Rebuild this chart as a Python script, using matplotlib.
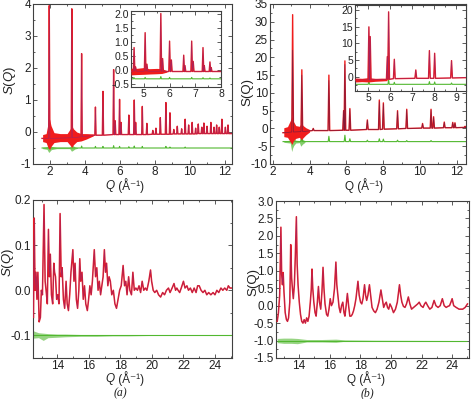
import matplotlib.pyplot as plt
from matplotlib.ticker import MultipleLocator, FormatStrFormatter

plt.rcParams.update({
    "font.family": ["Liberation Sans", "DejaVu Sans"],
    "font.size": 8,
    "axes.unicode_minus": False,
    "mathtext.fontset": "custom",
    "mathtext.it": "Liberation Sans:italic",
    "mathtext.rm": "Liberation Sans",
})

RED = "#f01c1c"
BLUE = "#3030c8"
GREEN = "#52b830"
FRAME = "#404040"

# ---- (a) upper panel: Bragg peaks, low Q ----
a1_q = [1.60, 1.98, 3.27, 3.83, 4.62, 5.05, 5.66, 5.75, 6.00, 6.08, 6.53, 6.84, 6.92,
        7.30, 7.56, 7.90, 8.08, 8.33, 8.65, 8.88, 9.10, 9.30, 9.55, 9.75, 9.95, 10.15,
        10.35, 10.50, 10.70, 10.82, 11.00, 11.22, 11.40, 11.55, 11.70, 11.85, 12.05,
        12.20, 12.45]
a1_top = [-0.20, 3.95, 3.85, 2.45, 0.78, 1.27, 1.95, 0.35, 1.02, 0.30, 0.53, 1.00, 0.30,
          0.80, 0.27, 0.05, 0.12, 0.45, 0.92, 0.60, 0.08, 0.18, 0.10, 0.40, 0.22, 0.30,
          0.12, 0.25, 0.15, 0.28, 0.18, 0.30, 0.15, 0.22, 0.15, 0.40, 0.15, 0.22, -0.05]
a1_foot = [-0.20, -0.20, -0.18, -0.15, -0.10, -0.10, -0.08, -0.08, -0.08, -0.08, -0.08,
           -0.08, -0.08, -0.08, -0.08, -0.07, -0.07, -0.07, -0.07, -0.07, -0.06, -0.06,
           -0.06, -0.06, -0.06, -0.06, -0.06, -0.05, -0.05, -0.05, -0.05, -0.05, -0.05,
           -0.05, -0.05, -0.05, -0.05, -0.05, -0.05]
a1_noise_q = [1.60, 1.80, 1.92, 2.00, 2.08, 2.25, 2.60, 3.00, 3.18, 3.27, 3.36, 3.55, 3.80, 4.10, 4.50]
a1_noise_lo = [-0.30, -0.33, -0.50, -0.55, -0.45, -0.33, -0.30, -0.30, -0.42, -0.48, -0.40, -0.30, -0.28, -0.22, -0.12]
a1_noise_hi = [-0.08, -0.05, 0.30, 0.40, 0.20, -0.02, -0.05, -0.05, 0.10, 0.20, 0.10, 0.00, -0.05, -0.05, -0.06]
a1_diff_base = -0.5
a1_diff_q = [1.60, 3.83, 4.62, 5.05, 5.66, 6.00, 6.53, 6.84, 7.30, 8.65, 8.88, 9.75, 12.45]
a1_diff_amp = [0, 0.06, 0.05, 0.05, 0.07, 0.05, 0.04, 0.06, 0.05, 0.05, 0.03, 0.03, 0]
a1_dnoise_q = [1.60, 1.85, 1.95, 2.02, 2.10, 2.40, 3.15, 3.25, 3.32, 3.45, 3.60]
a1_dnoise_lo = [-0.52, -0.54, -0.64, -0.60, -0.55, -0.52, -0.52, -0.60, -0.58, -0.53, -0.51]
a1_dnoise_hi = [-0.48, -0.46, -0.38, -0.40, -0.45, -0.48, -0.48, -0.40, -0.42, -0.47, -0.49]

# (a) inset
ai_q = [4.50, 4.62, 4.68, 5.05, 5.12, 5.66, 5.73, 6.00, 6.07, 6.55, 6.60, 6.86, 6.92, 7.30, 7.35, 7.57, 7.62, 8.00]
ai_top = [-0.05, 0.79, 0.10, 1.32, 0.20, 2.00, 0.40, 1.02, 0.35, 0.52, 0.15, 1.02, 0.30, 0.79, 0.15, 0.28, 0.08, -0.06]
ai_foot = [-0.05, -0.05, -0.05, -0.05, -0.05, -0.05, -0.06, -0.06, -0.06, -0.06, -0.06, -0.06,
           -0.06, -0.06, -0.06, -0.06, -0.06, -0.06]
ai_noise_q = [4.50, 4.70, 5.00, 5.20, 5.50, 5.70, 5.90]
ai_noise_lo = [-0.18, -0.17, -0.16, -0.15, -0.14, -0.13, -0.08]
ai_noise_hi = [0.06, 0.05, 0.08, 0.04, 0.05, 0.04, -0.03]
ai_diff_base = -0.32
ai_diff_q = [4.50, 4.62, 5.05, 5.66, 6.00, 6.86, 7.30, 7.57, 8.00]
ai_diff_amp = [0, 0.04, 0.05, 0.08, 0.05, 0.05, 0.04, 0.03, 0]

# ---- (b) upper panel ----
b1_q = [2.60, 3.08, 3.58, 4.20, 5.05, 5.85, 5.92, 6.19, 7.14, 7.79, 8.01, 8.78, 9.28,
        10.14, 10.60, 10.74, 11.32, 11.78, 11.90, 12.45, 12.50]
b1_top = [-1.2, 32.0, 16.5, 0.0, 15.0, 5.0, 19.0, 5.6, 2.4, 8.0, 7.2, 5.0, 5.4,
          1.4, 5.4, 3.3, 1.8, 1.7, 1.6, 0.6, 0.3]
b1_fit = [-1.2, 22.0, 15.0, 0.0, 13.5, 5.0, 18.0, 5.4, 2.3, 7.6, 6.9, 4.8, 5.2,
          1.3, 5.2, 3.1, 1.7, 1.6, 1.5, 0.5, 0.3]
b1_foot = [-1.2, -1.0, -0.9, -0.6, -0.6, -0.5, -0.5, -0.5, -0.3, -0.3, -0.2, -0.1, 0.0,
           0.1, 0.1, 0.1, 0.2, 0.2, 0.2, 0.3, 0.3]
b1_noise_q = [2.60, 2.80, 2.98, 3.05, 3.12, 3.25, 3.45, 3.55, 3.65, 3.80, 4.00]
b1_noise_lo = [-2.3, -2.5, -4.0, -4.5, -3.5, -2.8, -2.5, -3.2, -2.6, -1.8, -1.0]
b1_noise_hi = [0.2, 0.5, 2.5, 3.5, 2.0, 0.8, 0.6, 1.5, 0.8, 0.2, -0.3]
b1_diff_base = -3.7
b1_diff_q = [2.60, 3.58, 5.05, 5.92, 6.19, 7.14, 7.79, 8.01, 8.78, 9.28, 10.60, 12.50]
b1_diff_amp = [0, 1.8, 1.5, 1.8, 0.8, 0.4, 0.8, 0.7, 0.4, 0.3, 0.3, 0]
b1_dnoise_q = [2.60, 2.95, 3.03, 3.08, 3.14, 3.25, 3.45, 3.52, 3.62, 3.75]
b1_dnoise_lo = [-3.9, -4.1, -6.5, -5.5, -4.8, -4.1, -4.0, -5.0, -4.4, -3.9]
b1_dnoise_hi = [-3.5, -3.3, -1.5, -2.0, -2.6, -3.3, -3.4, -2.2, -3.0, -3.5]

# (b) inset
bi_q = [4.40, 5.02, 5.08, 5.86, 5.92, 6.18, 7.16, 7.78, 8.02, 8.79, 9.50]
bi_top = [-1.0, 14.9, 12.0, 6.0, 19.4, 5.2, 2.0, 7.8, 7.0, 4.8, -0.3]
bi_foot = [-1.0, -1.0, -1.0, -0.8, -0.8, -0.6, -0.5, -0.5, -0.5, -0.4, -0.3]
bi_noise_q = [4.40, 4.70, 5.00, 5.30, 5.60, 5.85]
bi_noise_lo = [-1.6, -1.5, -1.6, -1.4, -1.3, -1.2]
bi_noise_hi = [-0.4, -0.5, -0.3, -0.5, -0.5, -0.6]
bi_diff_base = -2.3
bi_diff_q = [4.40, 5.02, 5.92, 6.18, 7.78, 8.02, 8.79, 9.50]
bi_diff_amp = [0, 1.2, 1.3, 0.6, 0.8, 0.7, 0.4, 0]

# ---- (a) lower panel, high Q ----
a2_q = [12.48, 12.53, 12.58, 12.64, 12.70, 12.76, 12.84, 12.92, 12.98, 13.05, 13.15, 13.22,
        13.28, 13.36, 13.43, 13.49, 13.55, 13.62, 13.70, 13.77, 13.82, 13.88, 13.95, 14.02,
        14.10, 14.17, 14.24, 14.30, 14.38, 14.46, 14.55, 14.62, 14.70, 14.78, 14.86, 14.98,
        15.05, 15.12, 15.20, 15.28, 15.36, 15.42, 15.48, 15.56, 15.64, 15.72, 15.80, 15.90,
        15.98, 16.06, 16.14, 16.22, 16.34, 16.42, 16.50, 16.58, 16.66, 16.74, 16.82, 16.90,
        16.98, 17.05, 17.12, 17.20, 17.28, 17.36, 17.45, 17.55, 17.65, 17.75, 17.85, 17.95,
        18.05, 18.17, 18.26, 18.34, 18.42, 18.52, 18.60, 18.70, 18.79, 18.88, 18.98, 19.08,
        19.18, 19.28, 19.38, 19.48, 19.58, 19.68, 19.80, 19.91, 19.98, 20.08, 20.18, 20.30,
        20.42, 20.55, 20.68, 20.80, 20.92, 21.05, 21.15, 21.28, 21.40, 21.50, 21.58, 21.66,
        21.76, 21.86, 22.00, 22.10, 22.22, 22.32, 22.44, 22.56, 22.68, 22.80, 22.90, 23.00,
        23.12, 23.24, 23.36, 23.48, 23.60, 23.74, 23.88, 24.00, 24.12, 24.24, 24.38, 24.50,
        24.62, 24.75, 24.85, 24.95, 25.05]
a2_s = [-0.060, 0.160, 0.000, 0.040, -0.020, 0.040, -0.070, -0.060, 0.000, -0.010, 0.190, 0.020,
        0.000, -0.030, 0.135, 0.030, 0.080, -0.010, -0.030, 0.060, 0.040, 0.030, -0.020, -0.010,
        -0.030, 0.170, 0.030, 0.050, -0.020, -0.040, 0.020, -0.030, -0.045, -0.010, 0.040, 0.090,
        0.020, 0.060, -0.020, -0.040, 0.000, 0.070, 0.020, 0.040, -0.020, 0.010, -0.030, -0.045,
        -0.020, 0.010, -0.010, 0.020, 0.090, 0.030, 0.050, 0.000, 0.020, -0.010, 0.010, 0.030,
        0.090, 0.040, 0.060, 0.010, 0.030, 0.020, -0.010, 0.000, -0.030, -0.040, -0.020, 0.000,
        0.010, 0.055, 0.010, 0.020, -0.010, 0.030, 0.000, -0.010, 0.040, 0.000, 0.005, 0.000,
        0.010, -0.005, 0.020, 0.000, 0.005, 0.000, 0.020, 0.045, 0.020, 0.000, -0.005, 0.000,
        -0.010, -0.015, -0.005, -0.010, 0.000, 0.005, -0.005, 0.005, 0.015, 0.000, 0.005, 0.000,
        -0.005, 0.005, 0.020, 0.005, 0.010, 0.000, 0.005, -0.005, 0.005, -0.005, 0.010, 0.010,
        0.000, -0.005, 0.000, -0.010, -0.005, -0.010, -0.005, -0.010, 0.000, -0.005, 0.005, 0.000,
        0.005, 0.000, 0.010, 0.005, 0.005]
a2_diff_base = -0.1
a2_dnoise_q = [12.48, 12.80, 13.10, 13.40, 14.00, 14.50, 15.50, 16.50, 17.50, 18.50, 20.00, 25.05]
a2_dnoise_lo = [-0.106, -0.105, -0.111, -0.105, -0.104, -0.103, -0.102, -0.102, -0.101, -0.101, -0.100, -0.100]
a2_dnoise_hi = [-0.090, -0.094, -0.095, -0.096, -0.097, -0.097, -0.098, -0.098, -0.099, -0.099, -0.100, -0.100]

# ---- (b) lower panel ----
b2_q = [12.58, 12.66, 12.74, 12.82, 12.87, 12.92, 12.97, 13.02, 13.10, 13.18, 13.25, 13.32,
        13.40, 13.46, 13.52, 13.57, 13.63, 13.70, 13.76, 13.83, 13.88, 13.94, 14.02, 14.10,
        14.18, 14.26, 14.34, 14.42, 14.50, 14.58, 14.66, 14.74, 14.80, 14.85, 14.90, 14.97,
        15.05, 15.12, 15.20, 15.27, 15.34, 15.42, 15.50, 15.57, 15.63, 15.70, 15.80, 15.88,
        15.96, 16.04, 16.12, 16.22, 16.32, 16.41, 16.47, 16.54, 16.62, 16.70, 16.78, 16.86,
        16.94, 17.00, 17.08, 17.16, 17.24, 17.32, 17.40, 17.48, 17.56, 17.64, 17.72, 17.85,
        17.93, 18.02, 18.10, 18.18, 18.28, 18.35, 18.42, 18.50, 18.60, 18.68, 18.77, 18.88,
        18.99, 19.10, 19.22, 19.35, 19.44, 19.53, 19.62, 19.70, 19.78, 19.86, 19.94, 20.05,
        20.17, 20.30, 20.42, 20.56, 20.64, 20.72, 20.82, 20.92, 21.02, 21.14, 21.24, 21.35,
        21.48, 21.62, 21.75, 21.85, 21.96, 22.10, 22.20, 22.28, 22.40, 22.54, 22.68, 22.82,
        22.94, 23.08, 23.22, 23.36, 23.48, 23.61, 23.72, 23.83, 23.92, 24.00, 24.10, 24.26,
        24.45, 24.60, 24.69, 24.85, 25.00]
b2_s = [-0.45, -0.20, 0.30, 2.25, 0.90, 0.60, 0.95, 0.40, -0.20, -0.40, -0.45, -0.35,
        0.10, 1.75, 0.80, 0.50, 0.20, 0.60, 1.40, 2.55, 1.20, 0.60, 0.10, -0.25,
        -0.45, -0.50, -0.40, -0.50, -0.35, -0.45, -0.30, 0.10, 0.45, 1.05, 0.50, 0.10,
        -0.20, -0.30, 0.10, 0.55, 0.10, -0.10, 0.40, 1.10, 0.50, 0.05, -0.25, -0.30,
        -0.10, 0.20, 0.00, 0.10, 0.50, 1.25, 0.60, 0.30, -0.05, -0.20, 0.00, 0.10,
        -0.20, -0.30, 0.00, 0.35, 0.00, -0.30, -0.30, -0.25, -0.15, 0.00, 0.20, 0.70,
        0.30, 0.10, 0.05, 0.20, 0.60, 0.30, 0.15, 0.30, 0.60, 0.30, -0.05, -0.15,
        -0.20, -0.10, 0.10, 0.45, 0.20, -0.05, 0.05, 0.10, -0.05, -0.10, 0.05, -0.05,
        -0.20, -0.10, 0.10, 0.60, 0.30, 0.10, -0.02, -0.05, 0.05, 0.25, 0.05, -0.10,
        -0.05, 0.00, 0.05, 0.10, 0.00, -0.05, 0.05, 0.10, 0.00, -0.10, -0.05, 0.15,
        0.00, -0.05, 0.00, 0.20, 0.00, -0.05, -0.02, 0.00, 0.10, 0.20, 0.00, -0.05,
        -0.10, -0.10, -0.10, -0.05, 0.05]
b2_diff_base = -1.0
b2_dnoise_q = [12.58, 13.00, 13.50, 13.90, 14.50, 15.50, 16.40, 17.00, 19.00, 25.00]
b2_dnoise_lo = [-1.06, -1.08, -1.08, -1.09, -1.04, -1.04, -1.05, -1.02, -1.01, -1.00]
b2_dnoise_hi = [-0.94, -0.93, -0.93, -0.94, -0.97, -0.97, -0.96, -0.98, -0.99, -1.00]


def sticks(q, top, foot, hw):
    xs, ys = [], []
    for qi, ti, fi in zip(q, top, foot):
        xs += [qi - hw, qi, qi + hw]
        ys += [fi, ti, fi]
    return xs, ys


def rect(l, t, r, b):
    return [l / 474, 1 - b / 399, (r - l) / 474, (b - t) / 399]


def frame(ax, xlim, ylim, xmaj, xmin, ymaj, ymin, yfmt, size=8.5):
    ax.set_xlim(*xlim)
    ax.set_ylim(*ylim)
    ax.xaxis.set_major_locator(MultipleLocator(xmaj))
    ax.xaxis.set_minor_locator(MultipleLocator(xmin))
    ax.yaxis.set_major_locator(MultipleLocator(ymaj))
    ax.yaxis.set_minor_locator(MultipleLocator(ymin))
    ax.yaxis.set_major_formatter(FormatStrFormatter(yfmt))
    ax.tick_params(which="both", direction="in", top=True, right=True,
                   colors=FRAME, labelcolor="#222222", width=0.6, labelsize=size, pad=1.5)
    ax.tick_params(which="major", length=3)
    ax.tick_params(which="minor", length=1.6)
    for sp in ax.spines.values():
        sp.set_color(FRAME)
        sp.set_linewidth(0.8)


def pattern(ax, xs, ys, fit_ys=None, lw=1.0):
    ax.plot(xs, ys, color=RED, lw=lw, zorder=3)
    ax.plot(xs, fit_ys if fit_ys is not None else ys, color=BLUE, lw=lw * 0.4,
            alpha=0.4, zorder=4)


def diff_line(ax, q, amp, base, hw, lw=0.8):
    xs, ys = sticks(q, [base + a for a in amp], [base] * len(q), hw)
    ax.plot(xs, ys, color=GREEN, lw=lw, zorder=2)


fig = plt.figure(figsize=(4.74, 3.99), dpi=100)

# (a) upper
ax = fig.add_axes(rect(33, 4, 231.5, 164))
frame(ax, (1.05, 12.4), (-1, 4), 2, 1, 1, 0.5, "%d")
ax.fill_between(a1_noise_q, a1_noise_lo, a1_noise_hi, color=RED, lw=0, zorder=3)
xs, ys = sticks(a1_q, a1_top, a1_foot, 0.035)
pattern(ax, xs, ys)
diff_line(ax, a1_diff_q, a1_diff_amp, a1_diff_base, 0.03)
ax.fill_between(a1_dnoise_q, a1_dnoise_lo, a1_dnoise_hi, color=GREEN, lw=0, alpha=0.7, zorder=2)

ins = fig.add_axes(rect(131, 10.7, 221, 86.7))
frame(ins, (4.5, 8.0), (-0.6, 2.1), 1, 0.5, 0.5, 0.25, "%.1f", size=7.5)
ins.fill_between(ai_noise_q, ai_noise_lo, ai_noise_hi, color=RED, lw=0, zorder=3)
xs, ys = sticks(ai_q, ai_top, ai_foot, 0.03)
pattern(ins, xs, ys)
diff_line(ins, ai_diff_q, ai_diff_amp, ai_diff_base, 0.025)

# (b) upper
ax = fig.add_axes(rect(270, 4, 466, 164))
frame(ax, (1.85, 12.5), (-10, 35), 2, 1, 5, 2.5, "%d")
ax.fill_between(b1_noise_q, b1_noise_lo, b1_noise_hi, color=RED, lw=0, zorder=3)
xs, ys = sticks(b1_q, b1_top, b1_foot, 0.045)
_, fys = sticks(b1_q, b1_fit, b1_foot, 0.045)
ax.plot(xs, ys, color=RED, lw=1.0, zorder=3)
ax.plot(xs, fys, color="#3a1a50", lw=0.5, alpha=0.6, zorder=4)
diff_line(ax, b1_diff_q, b1_diff_amp, b1_diff_base, 0.04)
ax.fill_between(b1_dnoise_q, b1_dnoise_lo, b1_dnoise_hi, color=GREEN, lw=0, alpha=0.7, zorder=2)

ins = fig.add_axes(rect(355.3, 4.5, 466, 91))
frame(ins, (4.4, 9.45), (-4.3, 21.6), 1, 0.5, 5, 2.5, "%d", size=7.5)
ins.fill_between(bi_noise_q, bi_noise_lo, bi_noise_hi, color=RED, lw=0, zorder=3)
xs, ys = sticks(bi_q, bi_top, bi_foot, 0.04)
pattern(ins, xs, ys)
diff_line(ins, bi_diff_q, bi_diff_amp, bi_diff_base, 0.03)

# (a) lower
ax = fig.add_axes(rect(33, 200, 231.5, 358))
frame(ax, (12.45, 25.05), (-0.15, 0.2), 2, 1, 0.1, 0.05, "%.1f")
pattern(ax, a2_q, a2_s, lw=1.1)
ax.hlines(a2_diff_base, a2_q[0], a2_q[-1], color=GREEN, lw=0.8, zorder=2)
ax.fill_between(a2_dnoise_q, a2_dnoise_lo, a2_dnoise_hi, color=GREEN, lw=0, alpha=0.6, zorder=2)

# (b) lower
ax = fig.add_axes(rect(276, 201, 469, 358))
frame(ax, (12.5, 25.1), (-1.5, 3.0), 2, 1, 0.5, 0.25, "%.1f")
pattern(ax, b2_q, b2_s, lw=1.1)
ax.hlines(b2_diff_base, b2_q[0], b2_q[-1], color=GREEN, lw=0.8, zorder=2)
ax.fill_between(b2_dnoise_q, b2_dnoise_lo, b2_dnoise_hi, color=GREEN, lw=0, alpha=0.6, zorder=2)


# axis labels
def ftext(x, y, s, size=9.5, ha="center", **kw):
    fig.text(x / 474, 1 - y / 399, s, ha=ha, va="center", fontsize=size,
             color="#222222", **kw)


ftext(10, 80, r"$S$($Q$)", rotation=90)
ftext(8, 262, r"$S$($Q$)", rotation=90)
ftext(247, 92, "S(Q)", rotation=90)
ftext(253, 282, "S(Q)", rotation=90)
# left panels: italic Q followed by the unit
for y in (186, 379):
    ftext(115, y, "Q", size=8.5, ha="right", style="italic")
    ftext(115, y, " (Å⁻¹)", size=8.5, ha="left")
ftext(364, 186, "Q (Å⁻¹)", size=8.5)
ftext(366, 379, "Q (Å⁻¹)", size=8.5)
ftext(120, 393, "(a)", size=8.5, family="Liberation Serif", style="italic")
ftext(367, 393, "(b)", size=8.5, family="Liberation Serif", style="italic")

fig.savefig("out.png", dpi=100)
